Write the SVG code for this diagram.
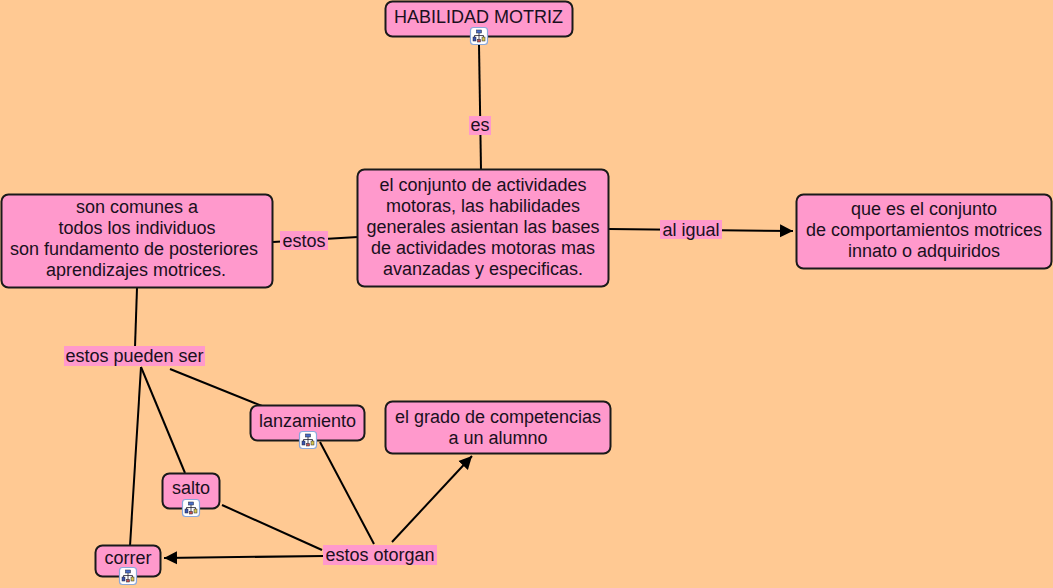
<svg xmlns="http://www.w3.org/2000/svg" width="1053" height="588" viewBox="0 0 1053 588">
<style>
text{font-family:"Liberation Sans",Arial,sans-serif;font-size:18px;fill:#1a1020;text-anchor:middle}
.n{fill:#ff99cc;stroke:#1a1a1a;stroke-width:2}
.l{fill:#ff99cc}
.c{stroke:#000;stroke-width:2;fill:none}
</style>
<defs>
<marker id="a" markerUnits="userSpaceOnUse" markerWidth="14" markerHeight="14" refX="13" refY="7" orient="auto"><path d="M0 0.500L13 7L0 13.500z" fill="#000"/></marker>
<g id="ic">
<rect x="-8.500" y="-8.500" width="17" height="17" rx="3" fill="#fff" stroke="#8aa8dc" stroke-width="1.200"/>
<path d="M0-3V1M-4.500 2V-.5H4.500V2M0 1V4" stroke="#223" stroke-width=".8" fill="none"/>
<rect x="-2.500" y="-6" width="5" height="3" fill="#4a6fc8" stroke="#223" stroke-width=".5"/>
<rect x="-6" y="1" width="3" height="4" fill="#3a55b0" stroke="#223" stroke-width=".5"/>
<rect x="3" y="1" width="3" height="4" fill="#d8c850" stroke="#223" stroke-width=".5"/>
<rect x="-1.500" y="3.500" width="3" height="2.500" fill="#c85050" stroke="#223" stroke-width=".5"/>
</g>
</defs>
<rect width="1053" height="588" fill="#ffc993"/>
<g id="connectors">
<path class="c" d="M479 45L481 170"/>
<path class="c" d="M273 242L358 237"/>
<path class="c" d="M609 229L793 231" marker-end="url(#a)"/>
<path class="c" d="M137 288L135 347"/>
<path class="c" d="M141 367L130 546"/>
<path class="c" d="M141 367L185 473"/>
<path class="c" d="M170 369L262 406"/>
<path class="c" d="M320 442L374 544"/>
<path class="c" d="M222 505L322 550"/>
<path class="c" d="M392 542L472 456" marker-end="url(#a)"/>
<path class="c" d="M324 556L164 558" marker-end="url(#a)"/>
</g>
<g id="lbl-es"><rect class="l" x="469" y="116" width="22" height="19"/><text x="480" y="131">es</text></g>
<g id="lbl-estos"><rect class="l" x="280" y="231" width="48" height="19"/><text x="304" y="246.500">estos</text></g>
<g id="lbl-aligual"><rect class="l" x="660" y="220" width="62" height="19"/><text x="691" y="235.500">al igual</text></g>
<g id="lbl-pueden"><rect class="l" x="64" y="346" width="141" height="20"/><text x="134.500" y="361.500">estos pueden ser</text></g>
<g id="lbl-otorgan"><rect class="l" x="323" y="545" width="114" height="20"/><text x="380" y="560.500">estos otorgan</text></g>
<g id="n-habilidad"><rect class="n" x="385.500" y="1.500" width="187" height="35" rx="7"/><text x="478.500" y="22.500">HABILIDAD MOTRIZ</text><use href="#ic" x="479" y="36"/></g>
<g id="n-conjunto"><rect class="n" x="357.500" y="169.500" width="251" height="117" rx="7"/>
<text x="483" y="190.500">el conjunto de actividades</text><text x="483" y="211.500">motoras, las habilidades</text><text x="483" y="232.500">generales asientan las bases</text><text x="483" y="253.500">de actividades motoras mas</text><text x="483" y="274.500">avanzadas y especificas.</text></g>
<g id="n-comunes"><rect class="n" x="1.500" y="194.500" width="271" height="93" rx="7"/>
<text x="137" y="212.500">son comunes a</text><text x="137" y="233.500">todos los individuos</text><text x="134" y="254.500">son fundamento de posteriores</text><text x="136" y="275.500">aprendizajes motrices.</text></g>
<g id="n-innato"><rect class="n" x="796.500" y="194.500" width="255" height="74" rx="7"/>
<text x="924" y="215">que es el conjunto</text><text x="924" y="236">de comportamientos motrices</text><text x="924" y="257">innato o adquiridos</text></g>
<g id="n-lanzamiento"><rect class="n" x="250.500" y="405.500" width="114" height="35" rx="7"/><text x="307.500" y="427">lanzamiento</text><use href="#ic" x="308" y="440"/></g>
<g id="n-grado"><rect class="n" x="385.500" y="401.500" width="225" height="52" rx="7"/>
<text x="498" y="423">el grado de competencias</text><text x="498" y="444">a un alumno</text></g>
<g id="n-salto"><rect class="n" x="162.500" y="473.500" width="57" height="35" rx="7"/><text x="191" y="494">salto</text><use href="#ic" x="191" y="508"/></g>
<g id="n-correr"><rect class="n" x="95.500" y="545.500" width="65" height="31" rx="7"/><text x="128" y="564">correr</text><use href="#ic" x="128" y="576"/></g>
</svg>
